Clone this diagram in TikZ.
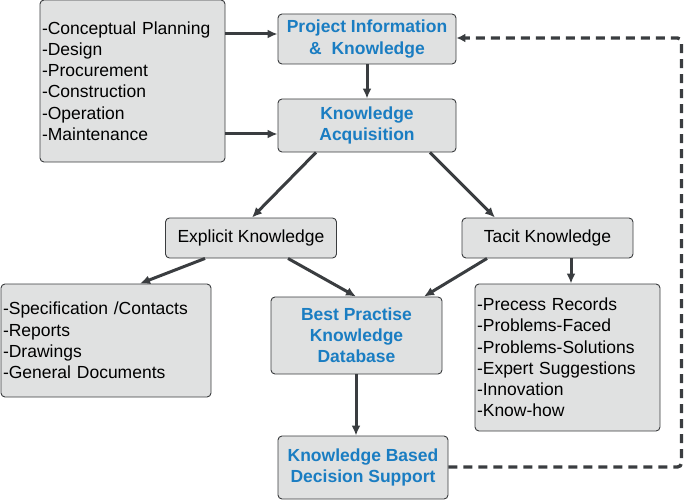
\documentclass[tikz,border=0pt]{standalone}
\usepackage{fontspec}
\setmainfont{Liberation Sans}
\usetikzlibrary{arrows.meta}
\definecolor{boxfill}{HTML}{E0E1E1}
\definecolor{boxline}{HTML}{3A3C3E}
\definecolor{arrline}{HTML}{3A3D40}
\definecolor{titleblue}{HTML}{1A7DC2}
\begin{document}
\begin{tikzpicture}[x=1pt,y=-1pt,
  box/.style={draw=boxline, line width=0.9pt, fill=boxfill, rounded corners=4pt,
    font=\fontsize{17.5}{21.2}\selectfont, inner sep=0pt},
  listbox/.style={box, align=left, inner xsep=2pt},
  titlebox/.style={box, align=center, text=titleblue, font=\fontsize{17.5}{21.2}\selectfont\bfseries},
  plainbox/.style={box, align=center},
  arr/.style={draw=arrline, line width=3pt, -{Latex[length=10pt,width=9pt]}},
  dasharr/.style={draw=arrline, line width=3.3pt, dash pattern=on 9pt off 6pt, rounded corners=4pt, -{Latex[length=9pt,width=9pt]}}
]
\useasboundingbox (0,0) rectangle (685,500);

\node[listbox, minimum width=185pt, minimum height=162pt, text width=181pt] (src) at (132.5,81)
  {-Conceptual Planning\\-Design\\-Procurement\\-Construction\\-Operation\\-Maintenance};
\node[titlebox, minimum width=178pt, minimum height=50pt] (pi) at (367,39)
  {Project Information\\\&\ \ Knowledge};
\node[titlebox, minimum width=178pt, minimum height=53pt] (ka) at (367,125.5)
  {Knowledge\\Acquisition};
\node[plainbox, minimum width=171pt, minimum height=40pt] (ek) at (251,238) {Explicit Knowledge};
\node[plainbox, minimum width=171pt, minimum height=40pt] (tk) at (547.5,238) {Tacit Knowledge};
\node[listbox, minimum width=210pt, minimum height=113pt, text width=206pt] (sp) at (106,340.5)
  {-Specification /Contacts\\-Reports\\-Drawings\\-General Documents\\[3pt]};
\node[titlebox, minimum width=171pt, minimum height=77pt] (bp) at (356.5,335.5)
  {Best Practise\\Knowledge\\Database};
\node[listbox, minimum width=185pt, minimum height=147pt, text width=181pt] (tl) at (567.5,357.5)
  {-Precess Records\\-Problems-Faced\\-Problems-Solutions\\-Expert Suggestions\\-Innovation\\-Know-how\\[3pt]};
\node[titlebox, minimum width=170pt, minimum height=63pt] (kb) at (363,467.5)
  {Knowledge Based\\Decision Support};

\draw[arr] (src.east |- 0,34) -- (pi.west |- 0,34);
\draw[arr] (src.east |- 0,134) -- (ka.west |- 0,134);
\draw[arr] (pi.south) -- (ka.north);
\draw[arr] (ka.south -| 316,0) -- (ek.north -| 252,0);
\draw[arr] (ka.south -| 430,0) -- (tk.north -| 495,0);
\draw[arr] (ek.south -| 205,0) -- (sp.north -| 140,0);
\draw[arr] (ek.south -| 288,0) -- (bp.north -| 356,0);
\draw[arr] (tk.south -| 487,0) -- (bp.north -| 424,0);
\draw[arr] (tk.south -| 571,0) -- (tl.north -| 571,0);
\draw[arr] (bp.south -| 356,0) -- (kb.north -| 356,0);

\coordinate (c1) at (681.5,467);
\coordinate (c2) at (681.5,38);
\draw[dasharr] (kb.east |- c1) -- (c1) -- (c2) -- (pi.east |- c2);
\end{tikzpicture}
\end{document}
